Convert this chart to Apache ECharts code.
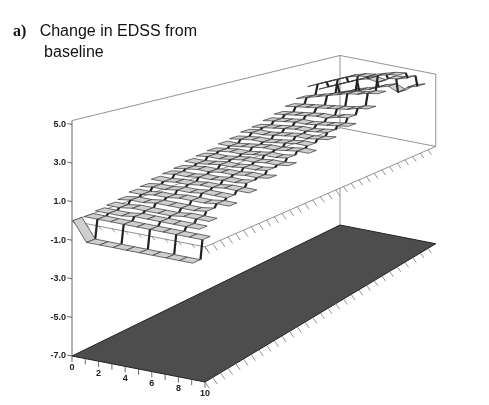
<!DOCTYPE html>
<html>
<head>
<meta charset="utf-8">
<script src="https://cdn.jsdelivr.net/npm/echarts@6/dist/echarts.min.js"></script>
<style>
  html, body { margin: 0; padding: 0; background: #fff; }
  #chart { width: 489px; height: 405px; }
</style>
</head>
<body>
<div id="chart"></div>
<script>
// Fake 3D ribbon chart: change in EDSS from baseline

// value axis ticks
const valueTicks = [-7, -5, -3, -1, 1, 3, 5];
const valueLabels = ['-7.0', '-5.0', '-3.0', '-1.0', '1.0', '3.0', '5.0'];
// depth axis ticks (0..10)
const depthTicks = [0, 2, 4, 6, 8, 10];
// time slots of the ribbons
const rowTime = [0, 1, 2, 3, 4, 5, 6, 7, 8, 9, 10, 11, 12, 13, 14, 15, 16, 17, 18, 19, 20, 21, 22, 23];
// EDSS change along the depth axis, one ribbon per time slot
const rowValues = [
    [0, -1, -1, -1, -1, -1, -1, -1, -1, -1],
    [0, 0, 0, 0, 0, 0, 0, 0, 0, 0],
    [0.1, 0.1, 0.1, 0.2, 0.2, 0.2, 0.2, 0.2, 0.2],
    [0.2, 0.2, 0.3, 0.3, 0.3, 0.3, 0.4, 0.4, 0.4],
    [0.3, 0.4, 0.4, 0.5, 0.5, 0.5, 0.5, 0.6],
    [0.5, 0.5, 0.6, 0.6, 0.7, 0.7, 0.7, 0.8, 0.8],
    [0.6, 0.7, 0.7, 0.8, 0.8, 0.9, 0.9, 0.9],
    [0.8, 0.8, 0.9, 0.9, 1.0, 1.0, 1.1, 1.1, 1.1],
    [0.9, 1.0, 1.0, 1.1, 1.1, 1.2, 1.2, 1.3],
    [1.0, 1.1, 1.2, 1.2, 1.3, 1.3, 1.4, 1.4, 1.5],
    [1.2, 1.2, 1.3, 1.4, 1.4, 1.5, 1.5, 1.6],
    [1.3, 1.4, 1.4, 1.5, 1.6, 1.6, 1.7, 1.7, 1.8],
    [1.4, 1.5, 1.6, 1.6, 1.7, 1.8, 1.8, 1.9],
    [1.6, 1.6, 1.7, 1.8, 1.9, 1.9, 2.0, 2.1, 2.1],
    [1.7, 1.8, 1.9, 1.9, 2.0, 2.1, 2.2, 2.2],
    [1.9, 2.0, 2.0, 2.1, 2.2, 2.3, 2.3, 2.4, 2.5],
    [2.0, 2.1, 2.2, 2.3, 2.4, 2.4, 2.5, 2.6],
    [2.2, 2.3, 2.4, 2.5, 2.5, 2.6, 2.7, 2.8, 2.9],
    [2.4, 2.5, 2.6, 2.7, 2.8, 2.8, 3.0, 3.1],
    [2.7, 2.8, 2.9, 3.0, 3.1, 3.2, 3.3, 3.5, 3.6],
    [3.0, 3.2, 3.4, 3.6, 3.8, 4.0, 4.1, 4.3, 4.4],
    [3.6, 3.9, 4.2, 4.5, 4.8, 5.0, 5.1, 5.3, 5.5, 5.6],
    [3.2, 3.5, 3.8, 4.1, 4.4, 4.6, 4.5, 4.9, 5.0, 5.2],
    [2.6, 2.8, 3.1, 3.3, 3.5, 3.8, 4.0, 3.7, 4.2, 4.4]
];

const T = 24, D = 10, V_MIN = -7, V_TOP = 5.2;

// simple perspective-ish projection into pixel space of a hidden grid
function proj(t, d, v) {
    const f = t / T, s = 1 - 0.28 * f;
    return [72 + 268 * f + d * 13.3 * s,
            356 - 131 * f + d * 2.6 * s - (v - V_MIN) * 19.3 * s];
}

let chart = echarts.init(document.getElementById('chart'));

function poly(api, pts, style) {
    return { type: 'polygon', shape: { points: pts.map(p => api.coord(proj(p[0], p[1], p[2]))) }, style: style };
}
function line(api, a, b, style) {
    const p1 = api.coord(proj(a[0], a[1], a[2])), p2 = api.coord(proj(b[0], b[1], b[2]));
    return { type: 'line', shape: { x1: p1[0], y1: p1[1], x2: p2[0], y2: p2[1] }, style: style };
}
function text(api, p, str, dx, dy, align) {
    const c = api.coord(proj(p[0], p[1], p[2]));
    return { type: 'text', x: c[0] + dx, y: c[1] + dy,
        style: { text: str, fill: '#222', font: 'bold 9px "Liberation Sans", Arial', align: align, verticalAlign: 'middle' } };
}

const edge = { stroke: '#777', lineWidth: 0.8, fill: null };

function renderFrame(params, api) {
    const els = [];
    // floor
    els.push(poly(api, [[0, 0, V_MIN], [T, 0, V_MIN], [T, D, V_MIN], [0, D, V_MIN]],
        { fill: '#4d4d4d', stroke: '#222', lineWidth: 1 }));
    // back wall and right wall outlines
    els.push(line(api, [0, 0, V_MIN], [0, 0, V_TOP], { stroke: '#666', lineWidth: 1 }));
    els.push(line(api, [0, 0, V_TOP], [T, 0, V_TOP], edge));
    els.push(line(api, [T, 0, V_MIN], [T, 0, V_TOP], edge));
    els.push(line(api, [T, 0, V_TOP], [T, D, V_TOP], edge));
    els.push(line(api, [T, D, 0], [T, D, V_TOP], edge));
    // mid plane at 0
    els.push(poly(api, [[0, 0, 0], [T, 0, 0], [T, D, 0], [0, D, 0]],
        { fill: 'rgba(255,255,255,0.9)', stroke: '#777', lineWidth: 0.8 }));
    // ticks along front edges
    for (let t = 0; t <= T; t += 0.8) {
        els.push(line(api, [t, D, 0], [t, D + 0.35, -0.3], { stroke: '#666', lineWidth: 0.7 }));
        els.push(line(api, [t, D, V_MIN], [t, D + 0.35, V_MIN - 0.3], { stroke: '#666', lineWidth: 0.7 }));
    }
    for (let d = 0; d <= D; d += 1) {
        els.push(line(api, [0, d, 0], [0.3, d, -0.25], { stroke: '#666', lineWidth: 0.7 }));
        els.push(line(api, [0, d, V_MIN], [0, d, V_MIN - 0.3], { stroke: '#444', lineWidth: 0.8 }));
    }
    // value axis
    valueTicks.forEach((v, i) => {
        els.push(line(api, [0, 0, v], [0, -0.35, v], { stroke: '#444', lineWidth: 0.8 }));
        els.push(text(api, [0, 0, v], valueLabels[i], -6, 0, 'right'));
    });
    depthTicks.forEach(d => els.push(text(api, [0, d, V_MIN], String(d), 0, 12, 'center')));
    return { type: 'group', children: els };
}

function renderRow(params, api) {
    const i = params.dataIndex;
    const idx = rowTime.length - 1 - i; // far rows first
    const t = rowTime[idx] + 0.5, vals = rowValues[idx], w = 0.4;
    const els = [];
    // connectors to the next (farther) row
    if (idx + 1 < rowValues.length) {
        const nv = rowValues[idx + 1];
        for (let d = 1; d < Math.min(vals.length, nv.length); d += 2) {
            els.push(line(api, [t + w, d, vals[d]], [t + 1 - w, d, nv[d]], { stroke: '#222', lineWidth: 2.2 }));
        }
    }
    for (let d = 0; d < vals.length - 1; d++) {
        els.push(poly(api, [[t - w, d, vals[d]], [t + w, d, vals[d]], [t + w, d + 1, vals[d + 1]], [t - w, d + 1, vals[d + 1]]],
            { fill: '#cfcfcf', stroke: '#333', lineWidth: 0.7 }));
    }
    return { type: 'group', children: els };
}

let option = {
    animation: false,
    title: {
        text: '{b|a)}   Change in EDSS from\n       baseline',
        left: 8, top: 16,
        textStyle: { fontFamily: '"Liberation Sans", Arial', fontSize: 16, fontWeight: 'normal', color: '#111', lineHeight: 21,
            rich: { b: { fontWeight: 'bold', fontSize: 16, fontFamily: '"Liberation Serif", serif' } } }
    },
    grid: { left: 0, right: 0, top: 0, bottom: 0 },
    xAxis: { type: 'value', min: 0, max: 489, show: false },
    yAxis: { type: 'value', min: 0, max: 405, inverse: true, show: false },
    series: [
        { type: 'custom', renderItem: renderFrame, data: [0], z: 1, silent: true },
        { type: 'custom', renderItem: renderRow, data: rowTime.map(t => t), z: 2, silent: true }
    ]
};

chart.setOption(option);
</script>
</body>
</html>
